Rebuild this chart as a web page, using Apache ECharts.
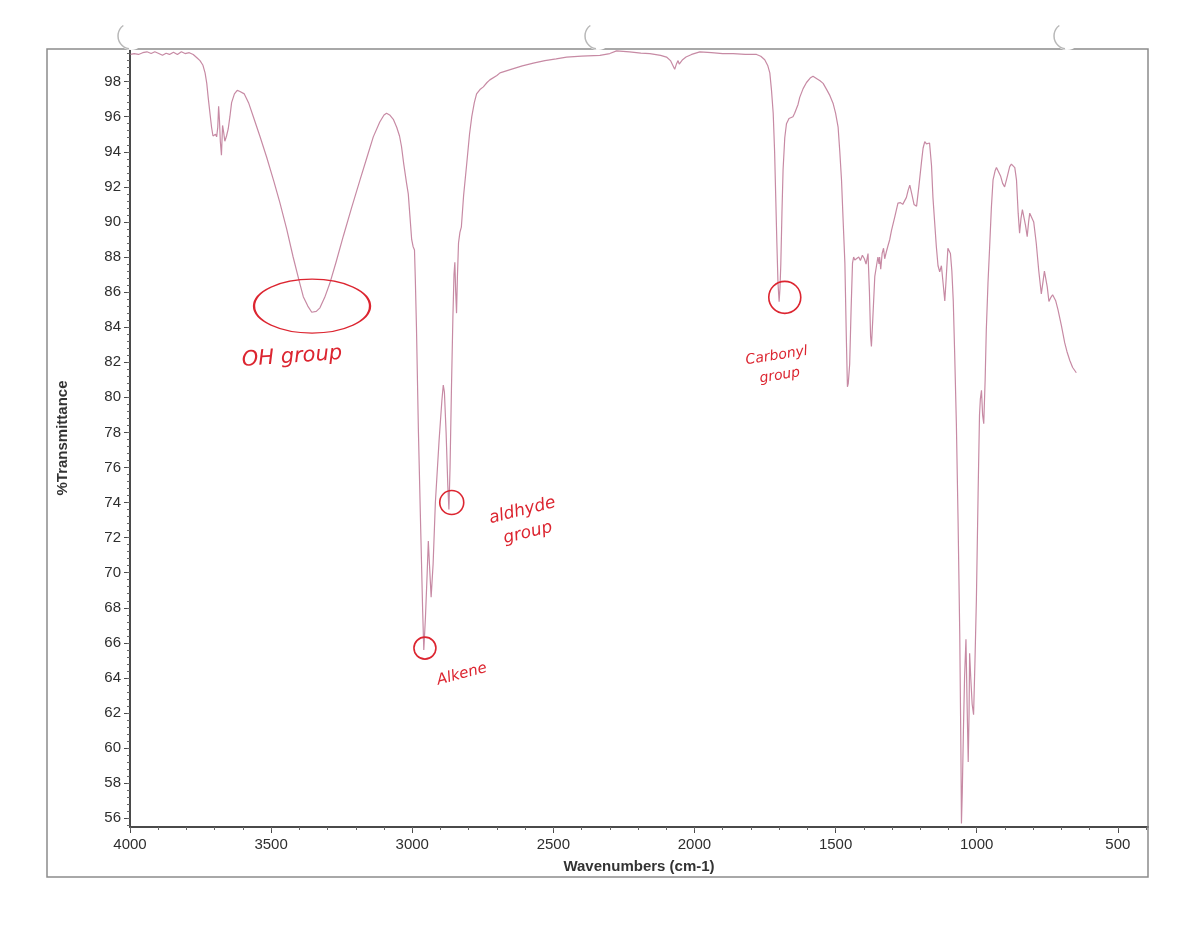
<!DOCTYPE html>
<html>
<head>
<meta charset="utf-8">
<title>IR spectrum</title>
<script src="https://cdn.jsdelivr.net/npm/echarts@6/dist/echarts.min.js"></script>
<style>
	html, body { margin: 0; padding: 0; background: #fff; }
	#irChart { width: 1200px; height: 942px; }
</style>
</head>
<body>
<div id="irChart"></div>
<script>
'use strict';

// wavenumber (cm-1) of every traced point, high to low
var wavenumbers = [
	3998, 3985, 3970, 3955, 3940, 3925, 3912, 3900, 3885, 3872, 3860, 3846, 3832, 3818, 3805, 3790,
	3776, 3762, 3752, 3742, 3734, 3728, 3723, 3716, 3711, 3706, 3702, 3697, 3693, 3689, 3686, 3683,
	3680, 3676, 3672, 3668, 3664, 3658, 3652, 3646, 3640, 3630, 3620, 3612, 3605, 3595, 3580, 3563,
	3540, 3516, 3490, 3469, 3445, 3422, 3400, 3386, 3370, 3356, 3340, 3327, 3310, 3292, 3270, 3244,
	3215, 3185, 3160, 3138, 3115, 3100, 3091, 3080, 3067, 3055, 3045, 3038, 3030, 3020, 3014, 3008,
	3002, 2997, 2992, 2989, 2985, 2978, 2970, 2963, 2959, 2953, 2947, 2943, 2939, 2933, 2930, 2926,
	2918, 2905, 2895, 2890, 2886, 2880, 2874, 2870, 2866, 2861, 2856, 2852, 2849, 2846, 2843, 2840,
	2836, 2831, 2826, 2818, 2807, 2797, 2789, 2780, 2772, 2760, 2748, 2735, 2725, 2700, 2689, 2650,
	2610, 2571, 2530, 2490, 2453, 2400, 2335, 2300, 2276, 2230, 2190, 2158, 2120, 2099, 2085, 2076,
	2070, 2064, 2058, 2054, 2050, 2042, 2030, 2010, 1981, 1940, 1900, 1863, 1820, 1780, 1765, 1751,
	1740, 1733, 1727, 1721, 1716, 1712, 1708, 1704, 1700, 1697, 1694, 1690, 1686, 1680, 1674, 1665,
	1651, 1645, 1639, 1633, 1627, 1615, 1603, 1590, 1580, 1565, 1555, 1544, 1530, 1520, 1509, 1500,
	1491, 1485, 1479, 1473, 1467, 1462, 1458, 1455, 1450, 1445, 1440, 1436, 1432, 1425, 1418, 1412,
	1405, 1398, 1392, 1385, 1380, 1376, 1373, 1368, 1361, 1355, 1350, 1346, 1344, 1340, 1335, 1330,
	1326, 1320, 1315, 1308, 1302, 1290, 1279, 1270, 1262, 1249, 1243, 1237, 1230, 1222, 1213, 1205,
	1196, 1190, 1184, 1178, 1172, 1167, 1160, 1155, 1149, 1143, 1137, 1131, 1125, 1119, 1113, 1108,
	1102, 1098, 1093, 1088, 1083, 1078, 1072, 1066, 1060, 1056, 1054, 1051, 1047, 1043, 1038, 1034,
	1030, 1027, 1025, 1021, 1016, 1011, 1006, 1001, 995, 990, 987, 983, 979, 975, 970, 966,
	960, 954, 948, 942, 935, 930, 924, 915, 908, 901, 893, 883, 877, 871, 865, 859,
	853, 848, 843, 838, 832, 827, 821, 816, 812, 805, 798, 789, 780, 771, 765, 760,
	756, 750, 744, 737, 731, 727, 720, 712, 700, 688, 680, 670, 660, 647
];

// %T at the same points
var transmittance = [
	99.55, 99.6, 99.55, 99.65, 99.7, 99.6, 99.7, 99.62, 99.5, 99.62, 99.55, 99.68, 99.55, 99.7, 99.6, 99.65,
	99.55, 99.35, 99.2, 98.95, 98.5, 97.9, 97.1, 96.1, 95.4, 94.9, 94.8, 95.0, 94.85, 95.4, 96.6, 95.8,
	94.6, 93.8, 95.5, 95.1, 94.6, 94.9, 95.3, 96.0, 96.8, 97.3, 97.5, 97.45, 97.5, 97.3, 96.8, 96.0,
	94.9, 93.7, 92.3, 91.1, 89.6, 88.0, 86.6, 85.74, 85.2, 84.85, 84.9, 85.1, 85.7, 86.5, 87.7, 89.2,
	90.8, 92.4, 93.7, 94.85, 95.7, 96.1, 96.2, 96.1, 95.85, 95.4, 94.9, 94.3, 93.3, 92.2, 91.6, 90.3,
	89.0, 88.6, 88.4, 86.7, 84.0, 78.0, 72.5, 67.8, 65.6, 67.5, 70.0, 71.8, 70.5, 68.6, 68.5, 70.5,
	74.0, 77.5, 79.8, 80.7, 80.3, 78.0, 75.0, 73.6, 76.0, 80.5, 84.5, 87.0, 87.7, 86.0, 84.8, 86.8,
	88.8, 89.4, 89.7, 91.5, 93.3, 95.0, 96.0, 96.8, 97.3, 97.55, 97.7, 97.95, 98.1, 98.35, 98.5, 98.7,
	98.9, 99.05, 99.2, 99.3, 99.4, 99.45, 99.5, 99.6, 99.75, 99.7, 99.62, 99.6, 99.5, 99.4, 99.2, 98.9,
	98.7, 99.0, 99.2, 99.0, 98.95, 99.25, 99.4, 99.55, 99.7, 99.65, 99.6, 99.6, 99.55, 99.55, 99.45, 99.25,
	98.9, 98.5, 97.5, 96.2, 94.0, 91.4, 88.8, 86.5, 85.45, 86.2, 87.6, 90.5, 92.97, 94.8, 95.6, 95.9,
	96.0, 96.2, 96.3, 96.7, 97.1, 97.6, 97.95, 98.2, 98.3, 98.15, 98.05, 97.9, 97.5, 97.2, 96.77, 96.2,
	95.4, 94.0, 92.4, 90.0, 87.65, 83.5, 80.6, 80.8, 81.9, 85.0, 87.65, 88.0, 87.83, 87.9, 88.0, 87.8,
	88.1, 87.9, 87.6, 88.2, 86.0, 83.5, 82.9, 84.5, 86.9, 87.5, 88.0, 87.6, 88.0, 87.3, 88.2, 88.5,
	87.9, 88.3, 88.6, 89.0, 89.5, 90.3, 91.07, 91.1, 91.0, 91.4, 91.8, 92.1, 91.6, 91.0, 90.9, 92.0,
	93.35, 94.2, 94.58, 94.45, 94.55, 94.5, 93.2, 91.4, 90.0, 88.6, 87.5, 87.15, 87.5, 86.5, 85.5, 86.8,
	88.5, 88.6, 88.2, 87.2, 85.5, 82.5, 78.5, 73.0, 66.5, 60.0, 55.7, 57.5, 61.0, 64.0, 66.2, 62.5,
	59.2, 62.0, 65.4, 64.0, 62.5, 61.9, 65.0, 68.5, 74.5, 79.0, 79.9, 80.4, 79.0, 78.5, 81.0, 83.8,
	86.5, 88.6, 90.8, 92.4, 92.9, 93.1, 93.06, 92.6, 92.2, 92.0, 92.5, 93.15, 93.3, 93.4, 93.1, 92.4,
	90.5, 89.36, 90.2, 90.7, 90.6, 89.8, 89.16, 90.0, 90.5, 90.4, 90.0, 88.8, 87.2, 85.9, 86.6, 87.2,
	87.17, 86.3, 85.46, 85.7, 85.85, 85.84, 85.5, 85.0, 84.1, 83.1, 82.6, 82.1, 81.7, 81.4
];

// axis labels
var xTickLabels = [4000, 3500, 3000, 2500, 2000, 1500, 1000, 500];
var yTickLabels = [56, 58, 60, 62, 64, 66, 68, 70, 72, 74, 76, 78, 80, 82, 84, 86, 88, 90, 92, 94, 96, 98];

var LINE_COLOR = '#c78aa4';
var PEN_RED = '#dc2530';
var AXIS_DARK = '#4a4a4a';

function minorTicks(from, to, step) {
	var list = [];
	for (var v = from; v <= to + 1e-6; v += step) {
		list.push(Math.round(v * 10) / 10);
	}
	return list;
}

// plain numbers, no thousands comma
function plain(v) {
	return String(v);
}

// a hand drawn ring round a peak
function ring(coord, size) {
	return {
		coord: coord,
		symbol: 'circle',
		symbolSize: size,
		itemStyle: { color: 'rgba(0,0,0,0)', borderColor: PEN_RED, borderWidth: 1.6 },
		label: { show: false }
	};
}

// a hand written note
function note(coord, text, size, rot) {
	return {
		coord: coord,
		symbol: 'circle',
		symbolSize: 0,
		itemStyle: { color: 'rgba(0,0,0,0)' },
		label: {
			show: true,
			position: 'inside',
			formatter: text,
			color: PEN_RED,
			fontSize: size,
			fontStyle: 'italic',
			fontFamily: 'DejaVu Sans',
			rotate: rot,
			lineHeight: size + 6
		}
	};
}

// punch holes at the top of the scanned page
function hole(cx) {
	return [
		{ type: 'circle', shape: { cx: cx, cy: 36, r: 14 }, style: { fill: '#fff' }, z: 100 },
		{ type: 'arc', shape: { cx: cx, cy: 36, r: 13, startAngle: Math.PI * 0.55, endAngle: Math.PI * 1.3 },
		  style: { stroke: '#b8b8b8', lineWidth: 1.5, fill: null }, z: 101 }
	];
}

function buildChart() {
	var myChart = echarts.init(document.getElementById('irChart'));
	var points = [];
	for (var i = 0; i < wavenumbers.length; i++) {
		points.push([wavenumbers[i], transmittance[i]]);
	}
	var labelFont = { color: '#2e2e2e', fontSize: 15, fontFamily: 'Liberation Sans', formatter: plain };

	var option = {
		animation: false,
		backgroundColor: '#fff',
		grid: { left: 130, right: 52, top: 49, bottom: 115 },
		xAxis: [
			{
				type: 'value', min: 393, max: 4000, inverse: true,
				name: 'Wavenumbers (cm-1)', nameLocation: 'middle', nameGap: 32,
				nameTextStyle: { color: '#333', fontSize: 15, fontWeight: 'bold', fontFamily: 'Liberation Sans' },
				axisLine: { show: true, lineStyle: { color: AXIS_DARK, width: 2 } },
				axisTick: { show: true, length: 6, customValues: xTickLabels, lineStyle: { color: AXIS_DARK } },
				axisLabel: Object.assign({ customValues: xTickLabels, margin: 10 }, labelFont),
				splitLine: { show: false }
			},
			{
				type: 'value', min: 393, max: 4000, inverse: true, position: 'bottom',
				axisLine: { show: false },
				axisTick: { show: true, length: 3, customValues: minorTicks(400, 4000, 100), lineStyle: { color: '#666' } },
				axisLabel: { show: false },
				splitLine: { show: false }
			}
		],
		yAxis: [
			{
				type: 'value', min: 55.5, max: 99.86,
				name: '%Transmittance', nameLocation: 'middle', nameGap: 60, nameRotate: 90,
				nameTextStyle: { color: '#333', fontSize: 15, fontWeight: 'bold', fontFamily: 'Liberation Sans' },
				axisLine: { show: true, lineStyle: { color: AXIS_DARK, width: 2 } },
				axisTick: { show: true, length: 6, customValues: yTickLabels, lineStyle: { color: AXIS_DARK } },
				axisLabel: Object.assign({ customValues: yTickLabels, margin: 9 }, labelFont),
				splitLine: { show: false }
			},
			{
				type: 'value', min: 55.5, max: 99.86, position: 'left',
				axisLine: { show: false },
				axisTick: { show: true, length: 3, customValues: minorTicks(55.6, 99.6, 0.4), lineStyle: { color: '#666' } },
				axisLabel: { show: false },
				splitLine: { show: false }
			}
		],
		series: [
			{
				type: 'line',
				data: points,
				showSymbol: false,
				smooth: false,
				lineStyle: { color: LINE_COLOR, width: 1.2 },
				markPoint: {
					silent: true,
					animation: false,
					data: [
						ring([3355, 85.2], [116, 54]),
						ring([2955, 65.7], 22),
						ring([2860, 74.0], 24),
						ring([1680, 85.7], 32),
						note([3426, 82.3], 'OH group', 21, 4),
						note([2824, 64.2], 'Alkene', 15, 15),
						note([2600, 72.9], 'aldhyde\ngroup', 17, 14),
						note([1703, 81.8], 'Carbonyl\ngroup', 14, 9)
					]
				}
			}
		],
		graphic: [
			{
				type: 'rect', shape: { x: 47, y: 49, width: 1101, height: 828 },
				style: { fill: null, stroke: '#8c8c8c', lineWidth: 1.5 }, z: 50
			}
		].concat(hole(131), hole(598), hole(1067))
	};

	myChart.setOption(option);
}

window.onload = function() {
	buildChart();
};
</script>
</body>
</html>
